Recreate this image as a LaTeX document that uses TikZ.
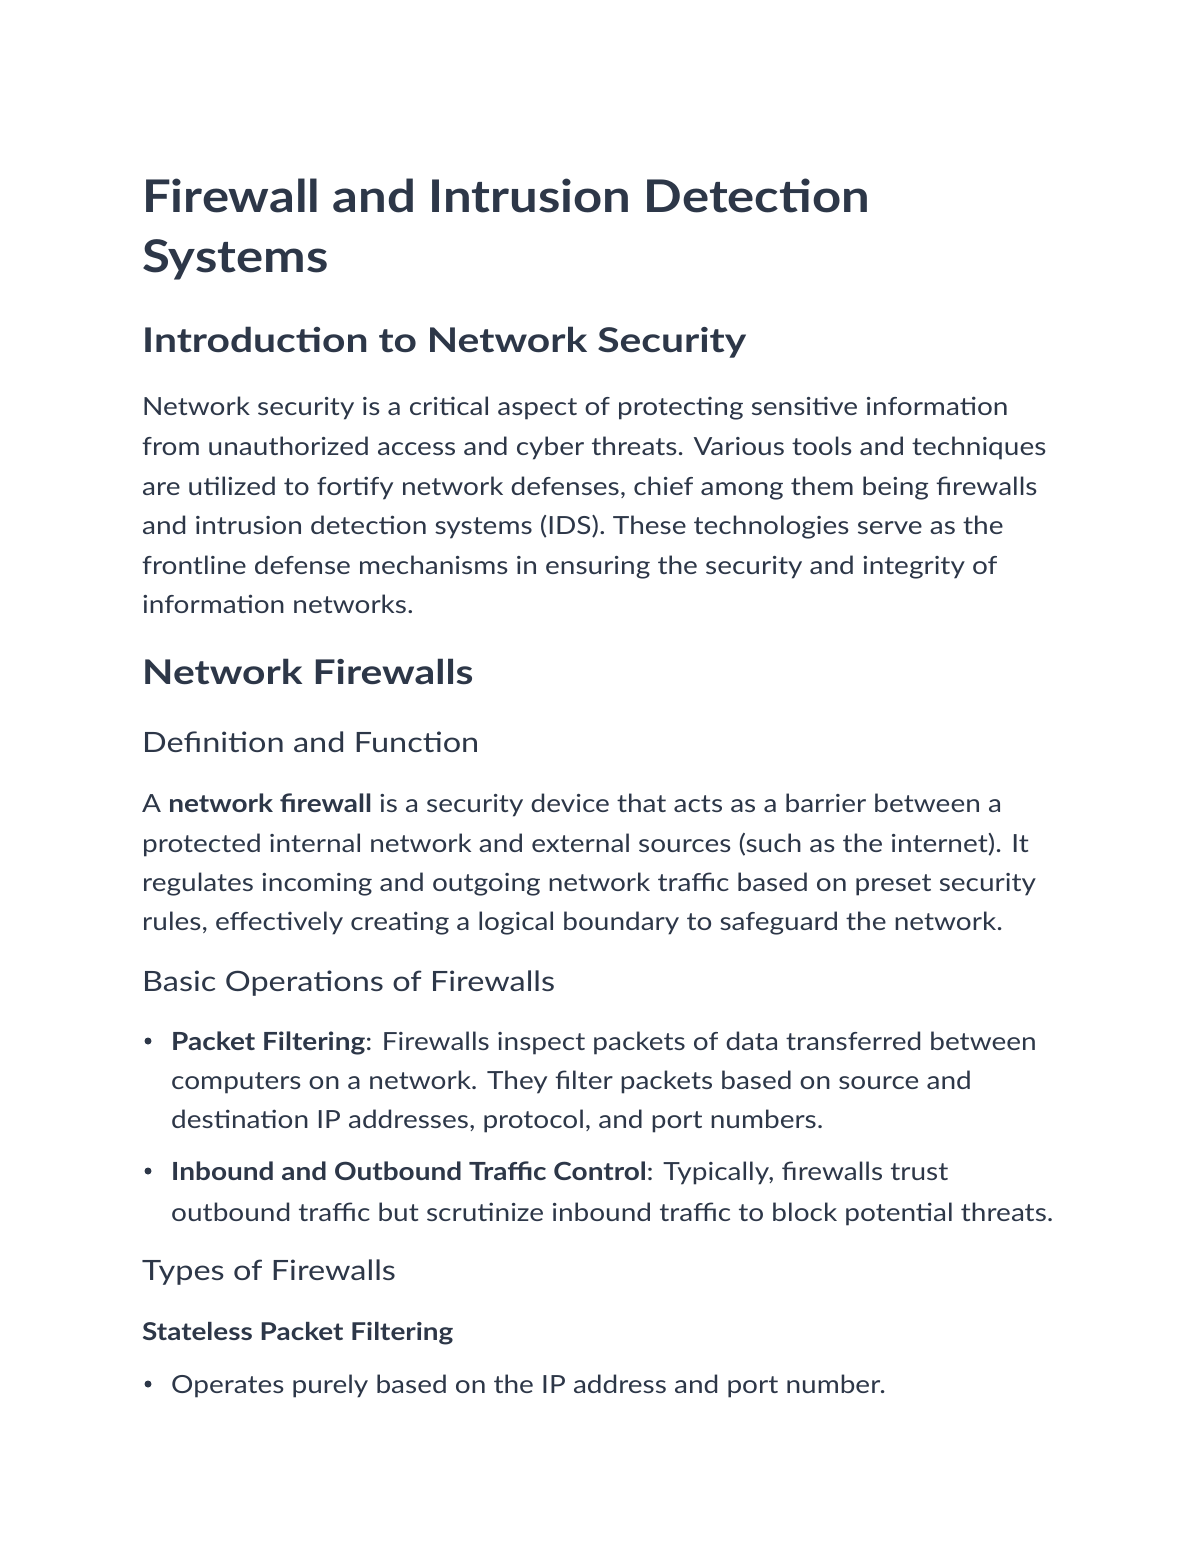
\documentclass[tikz,border=0pt]{standalone}
\usepackage{fontspec}
\setmainfont{Lato}
\definecolor{ink}{HTML}{2D3748}
\newcommand{\Wt}[1]{\scalebox{1.13}[1]{#1}}
\newcommand{\Wh}[1]{\scalebox{1.2}[1]{#1}}
\newcommand{\Wc}[1]{\scalebox{1.16}[1]{#1}}
\newcommand{\Wd}[1]{\scalebox{1.14}[1]{#1}}
\newcommand{\Wb}[1]{\scalebox{1.12}[1]{#1}}
\begin{document}
\begin{tikzpicture}[x=1pt,y=-1pt,
  txt/.style={anchor=base west,inner sep=0pt,text=ink},
  ttl/.style={txt,font=\fontsize{45}{54}\selectfont\bfseries},
  hb/.style={txt,font=\fontsize{34}{40}\selectfont\bfseries},
  hc/.style={txt,font=\fontsize{28}{34}\selectfont},
  hd/.style={txt,font=\fontsize{24.5}{30}\selectfont\bfseries},
  bd/.style={txt,font=\fontsize{25}{30}\selectfont},
  dot/.style={circle,fill=ink,inner sep=0pt,minimum size=7pt}]
\useasboundingbox[fill=white] (0,0) rectangle (1200,1553);
\node[ttl] (t1) at (142,212) {\Wt{Firewall and Intrusion Detection}};
\node[ttl] (t2) at (142,272) {\Wt{Systems}};
\node[hb] (h1) at (142,352) {\Wh{Introduction to Network Security}};
\node[bd] (p1) at (142,415) {\Wb{Network security is a critical aspect of protecting sensitive information}};
\node[bd] (p2) at (142,455) {\Wb{from unauthorized access and cyber threats. Various tools and techniques}};
\node[bd] (p3) at (142,495) {\Wb{are utilized to fortify network defenses, chief among them being firewalls}};
\node[bd] (p4) at (142,534) {\Wb{and intrusion detection systems (IDS). These technologies serve as the}};
\node[bd] (p5) at (142,574) {\Wb{frontline defense mechanisms in ensuring the security and integrity of}};
\node[bd] (p6) at (142,613) {\Wb{information networks.}};
\node[hb] (h2) at (142,684) {\Wh{Network Firewalls}};
\node[hc] (h3) at (142,752) {\Wc{Definition and Function}};
\node[bd] (q1) at (142,812) {\Wb{A \textbf{network firewall} is a security device that acts as a barrier between a}};
\node[bd] (q2) at (142,852) {\Wb{protected internal network and external sources (such as the internet). It}};
\node[bd] (q3) at (142,891) {\Wb{regulates incoming and outgoing network traffic based on preset security}};
\node[bd] (q4) at (142,930) {\Wb{rules, effectively creating a logical boundary to safeguard the network.}};
\node[hc] (h4) at (142,991) {\Wc{Basic Operations of Firewalls}};
\node[dot] (d1) at (148,1041) {};
\node[bd] (b1) at (171,1050) {\Wb{\textbf{Packet Filtering}: Firewalls inspect packets of data transferred between}};
\node[bd] (b2) at (171,1089) {\Wb{computers on a network. They filter packets based on source and}};
\node[bd] (b3) at (171,1128) {\Wb{destination IP addresses, protocol, and port numbers.}};
\node[dot] (d2) at (148,1171) {};
\node[bd] (b4) at (171,1180) {\Wb{\textbf{Inbound and Outbound Traffic Control}: Typically, firewalls trust}};
\node[bd] (b5) at (171,1221) {\Wb{outbound traffic but scrutinize inbound traffic to block potential threats.}};
\node[hc] (h5) at (142,1280) {\Wc{Types of Firewalls}};
\node[hd] (h6) at (142,1340) {\Wd{Stateless Packet Filtering}};
\node[dot] (d3) at (148,1384) {};
\node[bd] (b6) at (171,1393) {\Wb{Operates purely based on the IP address and port number.}};
\end{tikzpicture}
\end{document}
